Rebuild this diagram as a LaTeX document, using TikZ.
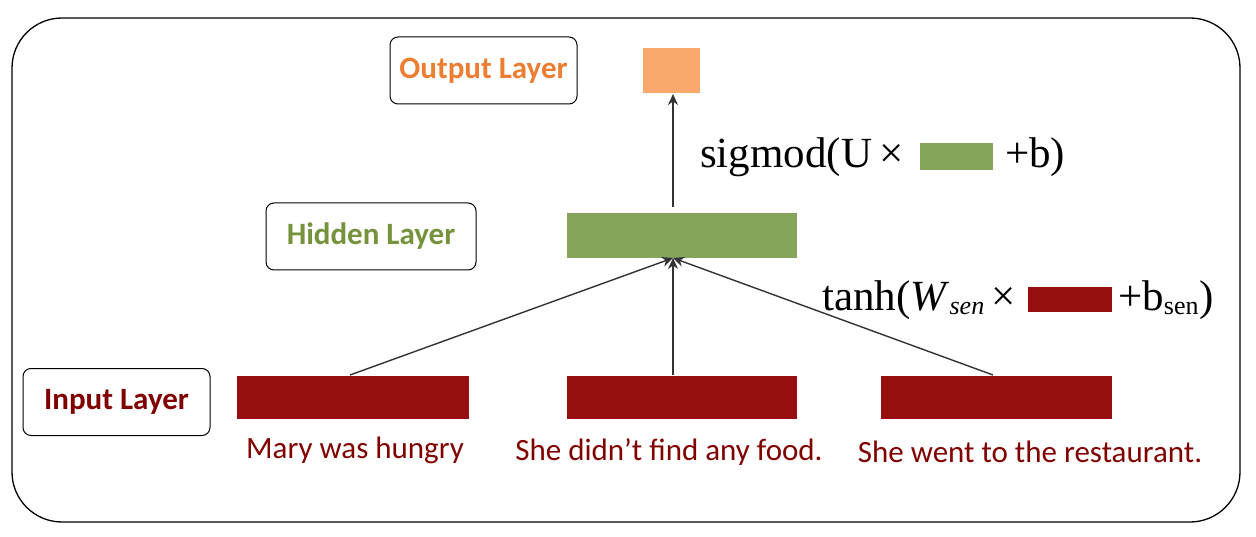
\documentclass[tikz,border=0pt]{standalone}
\usepackage{fontspec}
\setmainfont{Liberation Serif}
\newfontfamily\lab{Carlito}
\usetikzlibrary{arrows.meta}
\definecolor{outc}{RGB}{237,125,49}
\definecolor{outsq}{RGB}{250,168,108}
\definecolor{hidc}{RGB}{118,146,60}
\definecolor{hidr}{RGB}{134,164,92}
\definecolor{inc}{RGB}{128,0,0}
\definecolor{inr}{RGB}{150,14,14}
\begin{document}
\begin{tikzpicture}[x=1pt,y=-1pt,
  lbox/.style={draw=black,rounded corners=8pt,line width=1pt,minimum height=67pt,font=\lab\fontsize{31}{34}\selectfont\bfseries},
  blk/.style={minimum height=44pt,inner sep=0pt,outer sep=0pt},
  captxt/.style={font=\lab\fontsize{31}{34}\selectfont,text=inc},
  fml/.style={font=\fontsize{43}{46}\selectfont,inner sep=0pt},
  arr/.style={-{Stealth[length=11pt,width=10pt]},line width=1.4pt,black!80}]
\useasboundingbox (0,0) rectangle (1256,537);
\draw[line width=1.3pt,rounded corners=50pt] (12,18) rectangle (1240,522);
\node[lbox,minimum width=187pt,text=outc] (ol) at (483.5,70.5) {Output Layer};
\node[lbox,minimum width=210pt,text=hidc] (hl) at (371,236.5) {Hidden Layer};
\node[lbox,minimum width=187pt,text=inc] (il) at (116.5,402) {Input Layer};
\node[blk,fill=outsq,minimum width=57pt,minimum height=45pt] (o) at (671.5,70.5) {};
\node[blk,fill=hidr,minimum width=230pt,minimum height=45pt] (h) at (682,235.5) {};
\node[blk,fill=inr,minimum width=232pt,minimum height=43pt] (r1) at (353,397.5) {};
\node[blk,fill=inr,minimum width=230pt,minimum height=43pt] (r2) at (682,397.5) {};
\node[blk,fill=inr,minimum width=231pt,minimum height=43pt] (r3) at (996.5,397.5) {};
\node[captxt] (c1) at (355,450) {Mary was hungry};
\node[captxt] (c2) at (669,452) {She didn’t find any food.};
\node[captxt] (c3) at (1030,452) {She went to the restaurant.};
\coordinate (hb) at (673,258);
\coordinate (ht) at (673,207);
\coordinate (ob) at (673,94);
\coordinate (a1) at (350,375);
\coordinate (a2) at (673,375);
\coordinate (a3) at (993,375);
\draw[arr] (ht) -- (ob);
\draw[arr] (a1) -- (hb);
\draw[arr] (a2) -- (hb);
\draw[arr] (a3) -- (hb);
\node[fml,anchor=west] (s1) at (700,157) {sigmod(U\,×};
\node[blk,fill=hidr,minimum width=73pt,minimum height=27pt] (sg) at (956.5,156.5) {};
\node[fml,anchor=west] (s2) at (1005,157) {+b)};
\node[fml,anchor=west] (t1) at (822,300) {tanh(\textit{W}\textsubscript{\itshape\fontsize{26}{26}\selectfont sen}\,×};
\node[blk,fill=inr,minimum width=84pt,minimum height=25pt] (tr) at (1070,299.5) {};
\node[fml,anchor=west] (t2) at (1118,300) {+b\textsubscript{\fontsize{26}{26}\selectfont sen})};
\end{tikzpicture}
\end{document}
